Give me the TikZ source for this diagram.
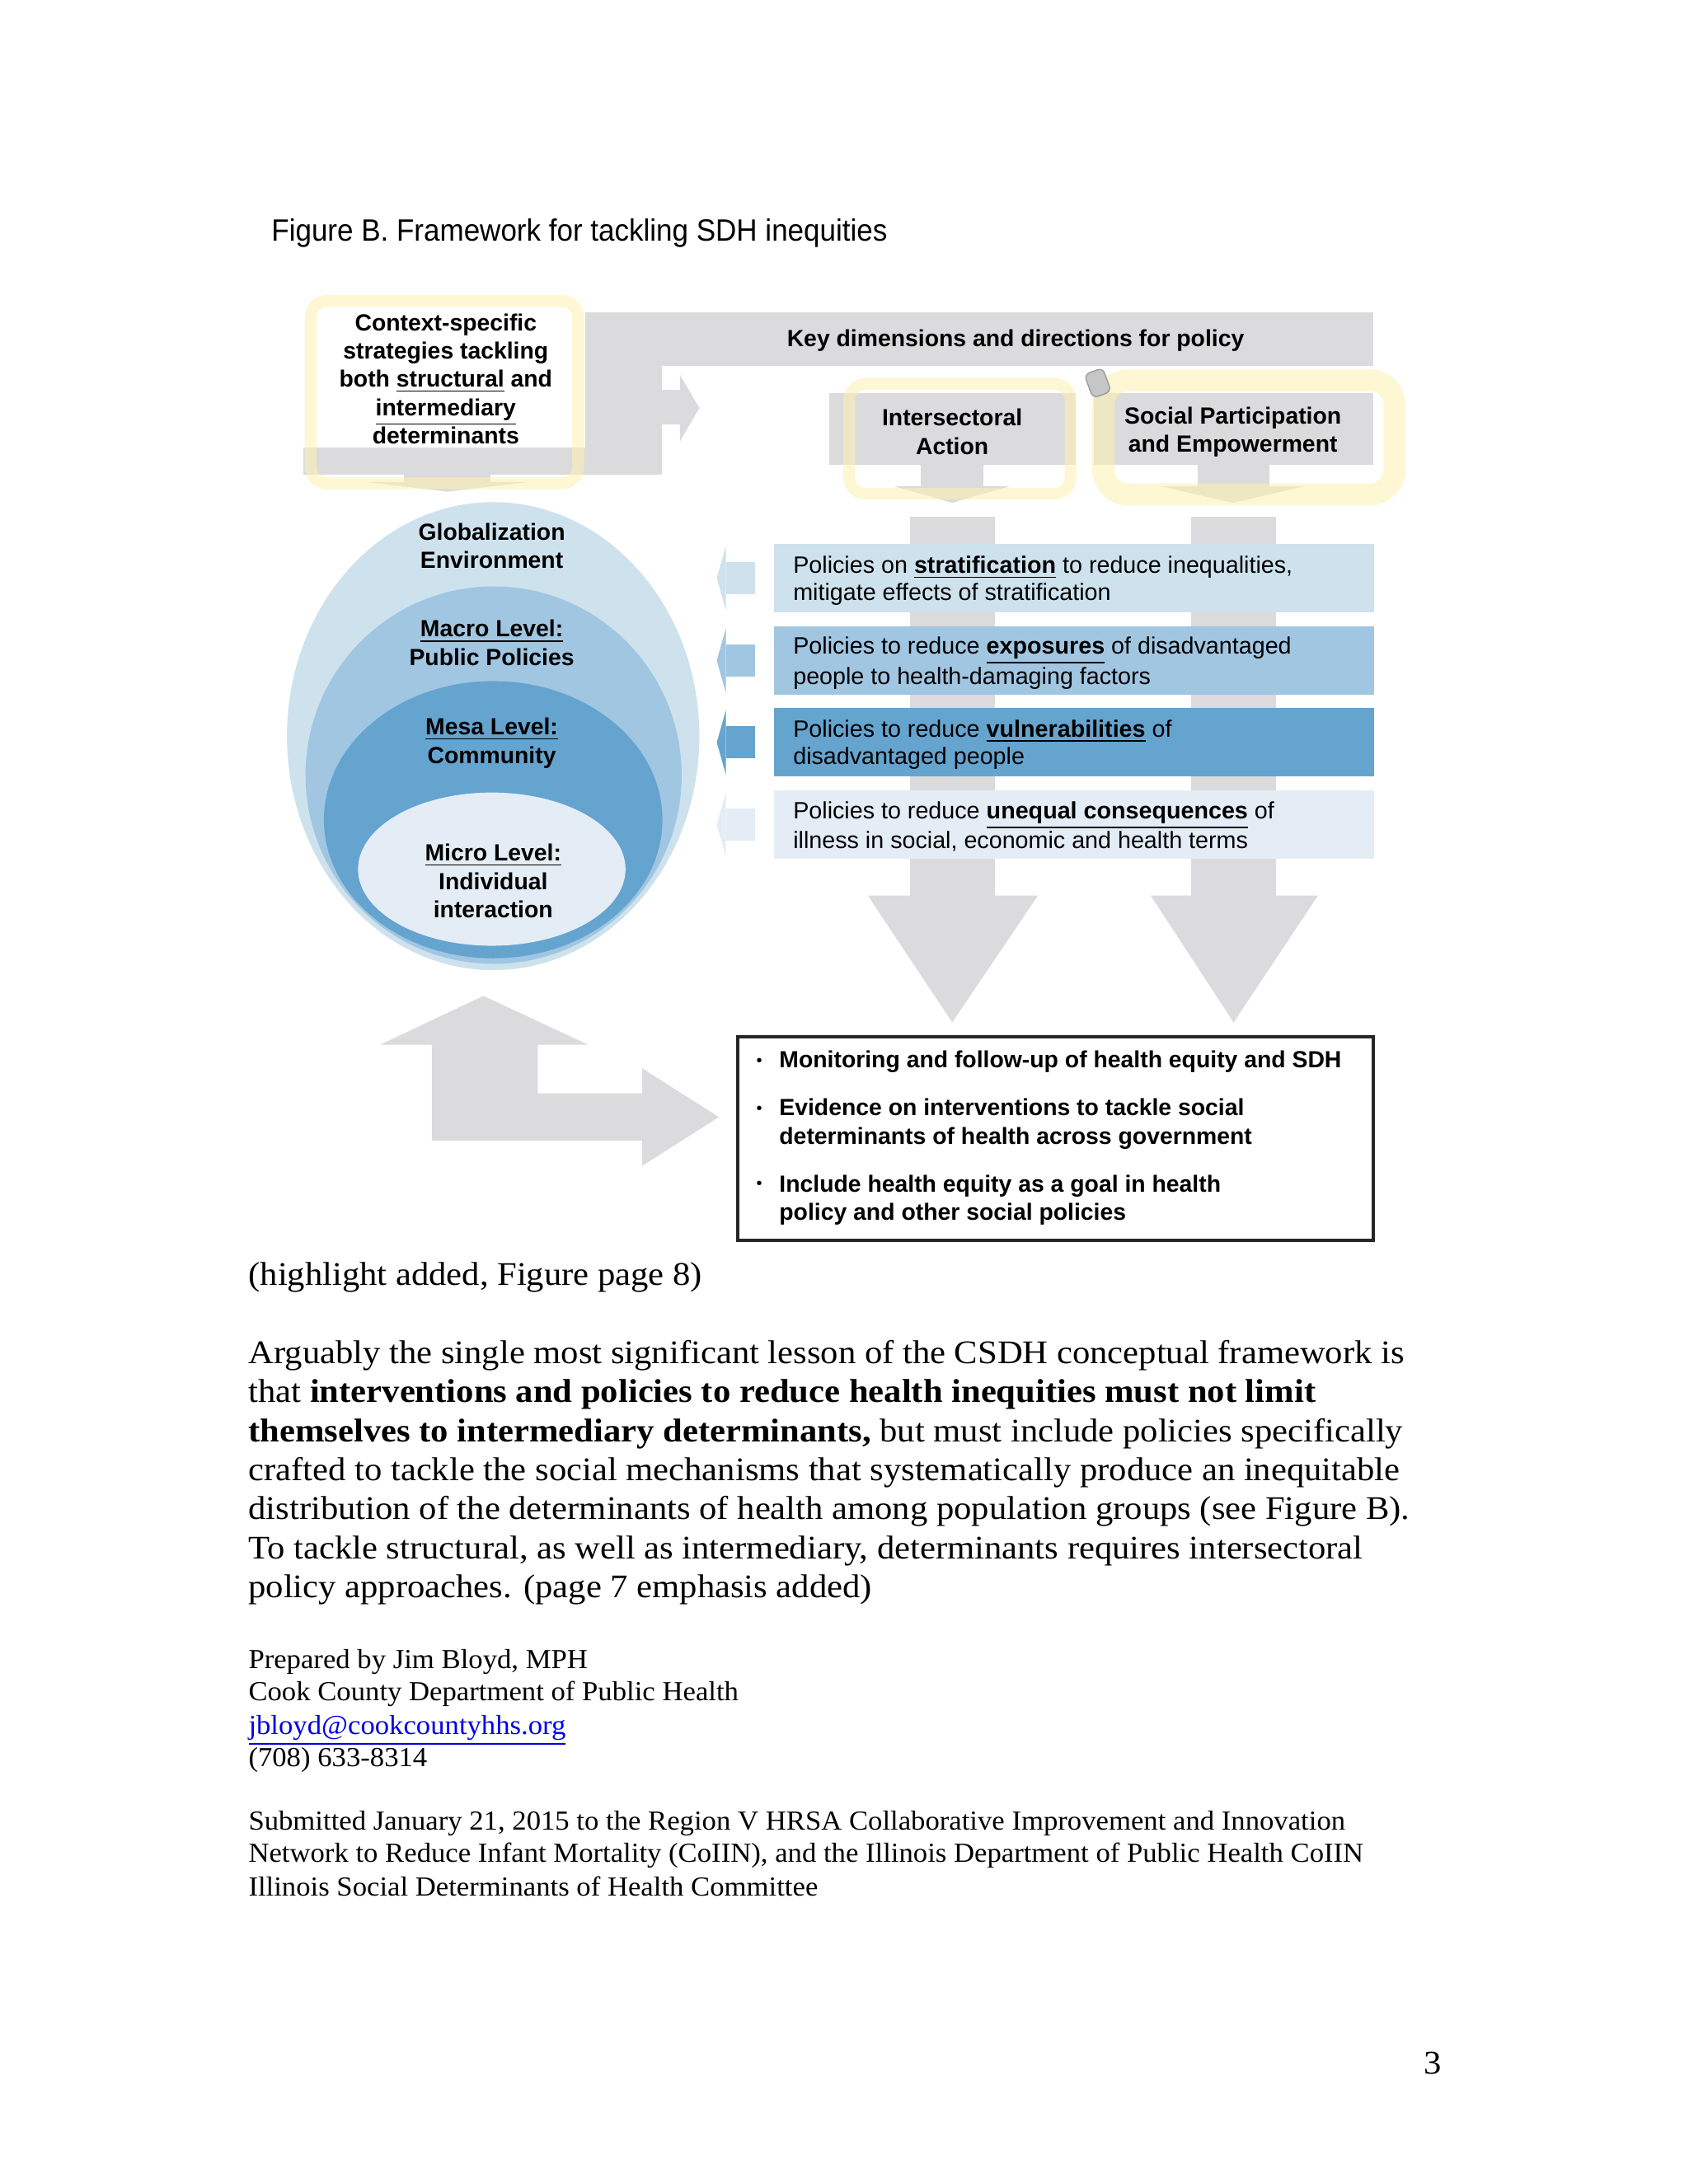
\documentclass[tikz,border=0pt]{standalone}
\usepackage{fontspec}
\setmainfont[FakeStretch=1.065]{Liberation Serif}
\setsansfont{Liberation Sans}
\newfontfamily\figtitlefont[FakeStretch=0.937]{Liberation Sans}
\newfontfamily\notefont[FakeStretch=1.04]{Liberation Serif}
\usetikzlibrary{arrows.meta,calc}
\usetikzlibrary{positioning}

\definecolor{arrowgray}{RGB}{219,218,220}
\definecolor{hiyellow}{RGB}{253,242,175}
\definecolor{blueA}{RGB}{206,226,238}
\definecolor{blueB}{RGB}{161,198,226}
\definecolor{blueC}{RGB}{101,164,207}
\definecolor{blueD}{RGB}{228,237,246}
\definecolor{linkblue}{RGB}{0,0,230}

\tikzset{
  grayblock/.style={fill=arrowgray},
  hilite/.style={draw=hiyellow, draw opacity=0.55, line width=4.3pt, rounded corners=6pt},
  figtext/.style={font=\sffamily\bfseries\fontsize{8.5}{10.3}\selectfont, align=center, inner sep=0pt},
  policytext/.style={font=\sffamily\fontsize{8.6}{10}\selectfont, align=left, anchor=west, inner sep=0pt},
  bodyline/.style={font=\fontsize{12}{14}\selectfont, anchor=base west, inner sep=0pt},
  smallline/.style={font=\notefont\fontsize{10}{12}\selectfont, anchor=base west, inner sep=0pt},
}

\begin{document}
\begin{tikzpicture}[x=0.017813cm,y=-0.017813cm]
  \useasboundingbox[fill=white] (0,0) rectangle (1212,1568);

  % title
  \node[anchor=base west, inner sep=0pt, font=\figtitlefont\fontsize{11.2}{13}\selectfont] (title) at (194.5,173)
    {Figure B. Framework for tackling SDH inequities};

  % gray bent arrow behind the context box
  \fill[grayblock] (420,224) rectangle (986,263);
  \fill[grayblock] (420,224) rectangle (475,341);
  \fill[grayblock] (218,321) rectangle (475,341);
  \fill[grayblock] (475,280) rectangle (488,305);
  \fill[grayblock] (488,269) -- (502,293) -- (488,317) -- cycle;
  \node[figtext] (keydim) at (729,244.5) {Key dimensions and directions for policy};

  % context box
  \fill[white] (227,220) rectangle (412,321);
  \fill[grayblock] (290,341) rectangle (352,346);
  \fill[grayblock] (262,346) -- (380,346) -- (321,353) -- cycle;
  \node[figtext] (context) at (320,272)
    {Context-specific\\strategies tackling\\both \underline{structural} and\\\underline{intermediary}\\determinants};

  % the two dimension boxes
  \fill[grayblock] (595,282) rectangle (772,334);
  \fill[grayblock] (661,334) rectangle (706,349);
  \fill[grayblock] (641.5,349) -- (725,349) -- (683.5,361) -- cycle;
  \node[figtext] (inter) at (683.5,310) {Intersectoral\\Action};

  \fill[grayblock] (785,282) rectangle (986,334);
  \fill[grayblock] (860,334) rectangle (911,349);
  \fill[grayblock] (833,349) -- (937,349) -- (885,361) -- cycle;
  \node[figtext] (social) at (885,310) {Social Participation\\and Empowerment};

  % long down arrows
  \fill[grayblock] (653,371) rectangle (714,643);
  \fill[grayblock] (623,643) -- (745,643) -- (683.5,734) -- cycle;
  \fill[grayblock] (855,371) rectangle (916,643);
  \fill[grayblock] (826,643) -- (946,643) -- (885.5,734) -- cycle;

  % policy boxes with their left arrows
  \foreach \t/\col in {390.6/blueA, 449.8/blueB, 508.5/blueC, 567.6/blueD} {
    \fill[\col] (555.8,\t) rectangle (986.5,\t+49);
    \fill[\col] (521,\t+13) rectangle (542,\t+36);
    \fill[\col] (521,\t+1.5) -- (514.5,\t+24.5) -- (521,\t+47.5) -- cycle;
  }
  \node[policytext] (strat) at (569,417)
    {Policies on \underline{\textbf{stratification}} to reduce inequalities,\\mitigate effects of stratification};
  \node[policytext] (expo) at (569,476)
    {Policies to reduce \underline{\textbf{exposures}} of disadvantaged\\people to health-damaging factors};
  \node[policytext] (vuln) at (569,534.5)
    {Policies to reduce \underline{\textbf{vulnerabilities}} of\\disadvantaged people};
  \node[policytext] (conseq) at (569,593.5)
    {Policies to reduce \underline{\textbf{unequal consequences}} of\\illness in social, economic and health terms};

  % nested levels
  \fill[blueA] (354,528.5) ellipse [x radius=148, y radius=168];
  \fill[blueB] (354.3,556.5) ellipse [x radius=135, y radius=135.5];
  \fill[blueC] (354,588.5) ellipse [x radius=121.5, y radius=99.5];
  \fill[blueD] (353,624) ellipse [x radius=96, y radius=55];
  \node[figtext] (global) at (353,392) {Globalization\\Environment};
  \node[figtext] (macro) at (353,461.5) {\underline{Macro Level:}\\Public Policies};
  \node[figtext] (mesa) at (353,533.5) {\underline{Mesa Level:}\\Community};
  \node[figtext] (micro) at (354,632.5) {\underline{Micro Level:}\\Individual\\interaction};

  % bent feedback arrow
  \fill[grayblock] (273,750) -- (347,715) -- (422,750) -- (386,750) -- (386,785)
    -- (461,785) -- (461,767) -- (516,802) -- (461,837) -- (461,819) -- (310,819)
    -- (310,750) -- cycle;

  % bottom box
  \draw[line width=1.2pt, draw=black!85] (529.7,744.6) rectangle (986,890.6);
  \foreach \y/\txt [count=\i] in {762.4/{Monitoring and follow-up of health equity and SDH},
      807/{Evidence on interventions to tackle social\\determinants of health across government},
      861.5/{Include health equity as a goal in health\\policy and other social policies}} {
    \node[figtext, anchor=west, align=left] (item\i) at (559,\y) {\txt};
  }
  \foreach \y in {762.4, 797, 851}
    \node[font=\sffamily\fontsize{6}{6}\selectfont, inner sep=0pt] at (545,\y) {•};

  % highlights added on top
  \draw[hilite] (223,216) rectangle (415,347);
  \draw[hilite] (609.5,275.5) rectangle (768.5,354.5);
  \draw[hilite, line width=8pt, rounded corners=9pt] (792,273) rectangle (1001,355);
  \filldraw[fill=gray!45, draw=gray!80, rotate around={20:(788,275)}, rounded corners=2pt]
    (781,266) rectangle (795,284);

  % text below the figure
  \node[bodyline] (note) at (178,923) {(highlight added, Figure page 8)};
  \node[bodyline] (p1) at (178,979) {Arguably the single most significant lesson of the CSDH conceptual framework is};
  \node[bodyline] (p2) at (178,1007) {that \textbf{interventions and policies to reduce health inequities must not limit}};
  \node[bodyline] (p3) at (178,1035) {\textbf{themselves to intermediary determinants,} but must include policies specifically};
  \node[bodyline] (p4) at (178,1063) {crafted to tackle the social mechanisms that systematically produce an inequitable};
  \node[bodyline] (p5) at (178,1091) {distribution of the determinants of health among population groups (see Figure B).};
  \node[bodyline] (p6) at (178,1119) {To tackle structural, as well as intermediary, determinants requires intersectoral};
  \node[bodyline] (p7) at (178,1147) {policy approaches. (page 7 emphasis added)};

  \node[smallline] (prep) at (178,1198) {Prepared by Jim Bloyd, MPH};
  \node[smallline] (dept) at (178,1221) {Cook County Department of Public Health};
  \node[smallline, text=linkblue] (mail) at (178,1245) {\underline{jbloyd@cookcountyhhs.org}};
  \node[smallline] (phone) at (178,1268) {(708) 633-8314};
  \node[smallline] (sub1) at (178,1314) {Submitted January 21, 2015 to the Region V HRSA Collaborative Improvement and Innovation};
  \node[smallline] (sub2) at (178,1337) {Network to Reduce Infant Mortality (CoIIN), and the Illinois Department of Public Health CoIIN};
  \node[smallline] (sub3) at (178,1361) {Illinois Social Determinants of Health Committee};

  \node[bodyline] (pagenum) at (1022,1489) {3};
\end{tikzpicture}
\end{document}
